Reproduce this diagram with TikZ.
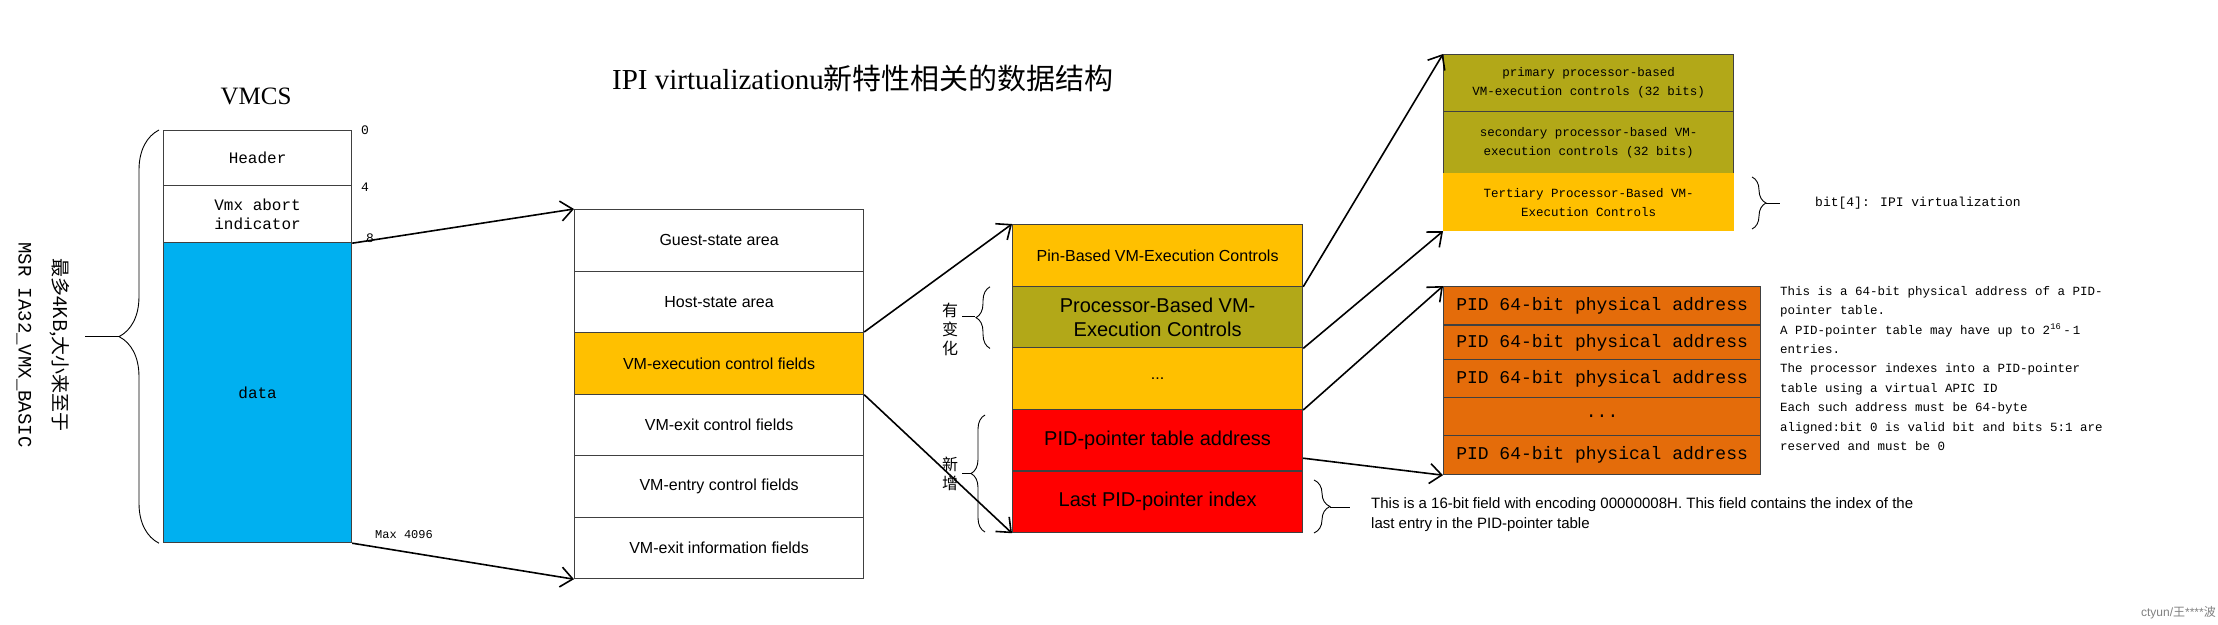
\documentclass[tikz,border=0pt]{standalone}
\usepackage{fontspec}
\setmainfont{Liberation Serif}
\newfontfamily\monof{Liberation Mono}
\newfontfamily\sansf{Liberation Sans}
\newfontfamily\cjk{Noto Sans CJK SC}
\usetikzlibrary{arrows.meta,decorations.pathreplacing}
\definecolor{cyanbox}{RGB}{0,176,240}
\definecolor{goldbox}{RGB}{255,192,0}
\definecolor{olivebox}{RGB}{178,168,24}
\definecolor{redbox}{RGB}{255,0,0}
\definecolor{pidbox}{RGB}{228,108,10}
\definecolor{framec}{RGB}{64,64,64}
\begin{document}
\begin{tikzpicture}[x=1pt,y=-1pt,
	cell/.style={draw=framec, line width=1.2pt, anchor=north west, inner sep=0pt, align=center},
	vcell/.style={cell, minimum width=188pt, font=\monof\fontsize{16}{19}\selectfont},
	fcell/.style={cell, minimum width=289pt, minimum height=61.5pt, font=\sansf\fontsize{16}{19}\selectfont},
	ccell/.style={cell, minimum width=290pt, minimum height=61.6pt, font=\sansf\fontsize{20}{24}\selectfont},
	tcell/.style={cell, minimum width=290pt, font=\monof\fontsize{12.5}{19}\selectfont},
	prow/.style={cell, fill=pidbox, minimum width=317pt, font=\monof\fontsize{18}{20}\selectfont},
	link/.style={line width=1.6pt, -{Straight Barb[length=12pt,width=20pt]}},
	curly/.style={decorate, decoration={brace, amplitude=#1}, line width=0.9pt},
	note/.style={inner sep=0pt, anchor=west}]
\useasboundingbox (0,0) rectangle (2218,624);

% titre et VMCS
\node (title) at (863,78) {\fontsize{29}{32}\selectfont IPI virtualizationu\cjk 新特性相关的数据结构};
\node (vmcs) at (256,96) {\fontsize{25}{28}\selectfont VMCS};
\node [vcell, minimum height=55pt] (header) at (163,130) {Header};
\node [vcell, minimum height=57pt] (vabort) at (163,185) {Vmx abort\\indicator};
\node [vcell, minimum height=300pt, fill=cyanbox] (data) at (163,242) {data};
\node [note, font=\monof\fontsize{13}{15}\selectfont] (off0) at (361,130) {0};
\node [note, font=\monof\fontsize{13}{15}\selectfont] (off4) at (361,187) {4};
\node [note, font=\monof\fontsize{13}{15}\selectfont] (off8) at (366,238) {8};
\node [note, font=\monof\fontsize{12}{14}\selectfont] (max) at (375,535) {Max 4096};
\draw [curly=40pt] (data.south west) ++(-4,0) coordinate (bb) -- ([xshift=-4pt]header.north west) coordinate (bt);
\coordinate (btip) at (119,336);
\coordinate (bend) at (85,336);
\draw [line width=0.9pt] (btip) -- (bend);
\node [rotate=-90, font=\cjk\fontsize{19}{22}\selectfont] (size) at (60,345) {最多4KB,大小来至于};
\node [rotate=-90, font=\monof\fontsize{19}{22}\selectfont] (msr) at (24,345) {MSR IA32\_VMX\_BASIC};

% champs du VMCS
\node [fcell] (guest) at (574,209) {Guest-state area};
\node [fcell] (host) at (574,270.5) {Host-state area};
\node [fcell, fill=goldbox] (vmexec) at (574,332) {VM-execution control fields};
\node [fcell] (exitctl) at (574,393.5) {VM-exit control fields};
\node [fcell] (entryctl) at (574,455) {VM-entry control fields};
\node [fcell] (exitinfo) at (574,516.5) {VM-exit information fields};

% controles d'execution
\node [ccell, fill=goldbox, font=\sansf\fontsize{16}{19}\selectfont] (pin) at (1012,224) {Pin-Based VM-Execution Controls};
\node [ccell, fill=olivebox] (proc) at (1012,285.6) {Processor-Based VM-\\Execution Controls};
\node [ccell, fill=goldbox, font=\sansf\fontsize{16}{19}\selectfont] (dots) at (1012,347.2) {...};
\node [ccell, fill=redbox] (pidaddr) at (1012,408.8) {PID-pointer table address};
\node [ccell, fill=redbox] (lastidx) at (1012,470.4) {Last PID-pointer index};
\draw [curly=14pt] (proc.south west) ++(-22,0) -- ++(0,-61.6);
\draw [line width=0.9pt] (975,316.5) -- (962,316.5);
\node [font=\cjk\fontsize{16}{19}\selectfont, align=center, inner sep=0pt] (chg) at (950,329) {有\\变\\化};
\draw [curly=14pt] (985,532) -- (985,415);
\draw [line width=0.9pt] (971,473) -- (962,473);
\node [font=\cjk\fontsize{16}{19}\selectfont, align=center, inner sep=0pt] (new) at (950,474) {新\\增};

% controles processeur
\node [tcell, fill=olivebox, minimum height=57pt] (prim) at (1443,54) {primary processor-based\\VM-execution controls (32 bits)};
\node [tcell, fill=olivebox, minimum height=62pt] (sec) at (1443,111) {secondary processor-based VM-\\execution controls (32 bits)};
\node [tcell, fill=goldbox, draw=goldbox, minimum height=57pt] (tert) at (1443,173) {Tertiary Processor-Based VM-\\Execution Controls};
\draw [curly=14pt] (1752,177) -- (1752,229);
\draw [line width=0.9pt] (1766,203) -- (1780,203);
\node [note, font=\monof\fontsize{13}{15}\selectfont] (bit4) at (1815,203) {bit[4]: IPI virtualization};

% table PID
\node [prow, minimum height=38pt] (pid1) at (1443,286) {PID 64-bit physical address};
\node [prow, minimum height=34pt] (pid2) at (1443,325) {PID 64-bit physical address};
\node [prow, minimum height=38pt] (pid3) at (1443,359) {PID 64-bit physical address};
\node [prow, minimum height=38pt] (pid4) at (1443,397) {...};
\node [prow, minimum height=39pt] (pid5) at (1443,435) {PID 64-bit physical address};
\node [note, anchor=north west, align=left, font=\monof\fontsize{12.5}{19.4}\selectfont] (piddesc) at (1780,286)
	{This is a 64-bit physical address of a PID-\\pointer table.\\A PID-pointer table may have up to 2\textsuperscript{16}\,-\,1\\entries.\\The processor indexes into a PID-pointer\\table using a virtual APIC ID\\Each such address must be 64-byte\\aligned:bit 0 is valid bit and bits 5:1 are\\reserved and must be 0};
\draw [curly=16pt] (1314,480) -- (1314,533);
\draw [line width=0.9pt] (1330,507) -- (1350,507);
\node [note, anchor=north west, align=left, font=\sansf\fontsize{15}{20}\selectfont] (lastdesc) at (1371,497)
	{This is a 16-bit field with encoding 00000008H. This field contains the index of the\\last entry in the PID-pointer table};
\node [note, anchor=east, text=gray, font=\sansf\fontsize{12}{14}\selectfont] (mark) at (2216,613) {ctyun/\cjk 王\sansf ****\cjk 波};

% fleches
\draw [link] (vabort.south east) -- (guest.north west);
\draw [link] (data.south east) -- (exitinfo.south west);
\draw [link] (vmexec.north east) -- (pin.north west);
\draw [link] (vmexec.south east) -- (lastidx.south west);
\draw [link] (pin.south east) -- (prim.north west);
\draw [link] (proc.south east) -- (tert.south west);
\draw [link] (dots.south east) -- (pid1.north west);
\draw [link] ([yshift=-18pt]pidaddr.east) -- (pid5.south west);
\end{tikzpicture}
\end{document}
